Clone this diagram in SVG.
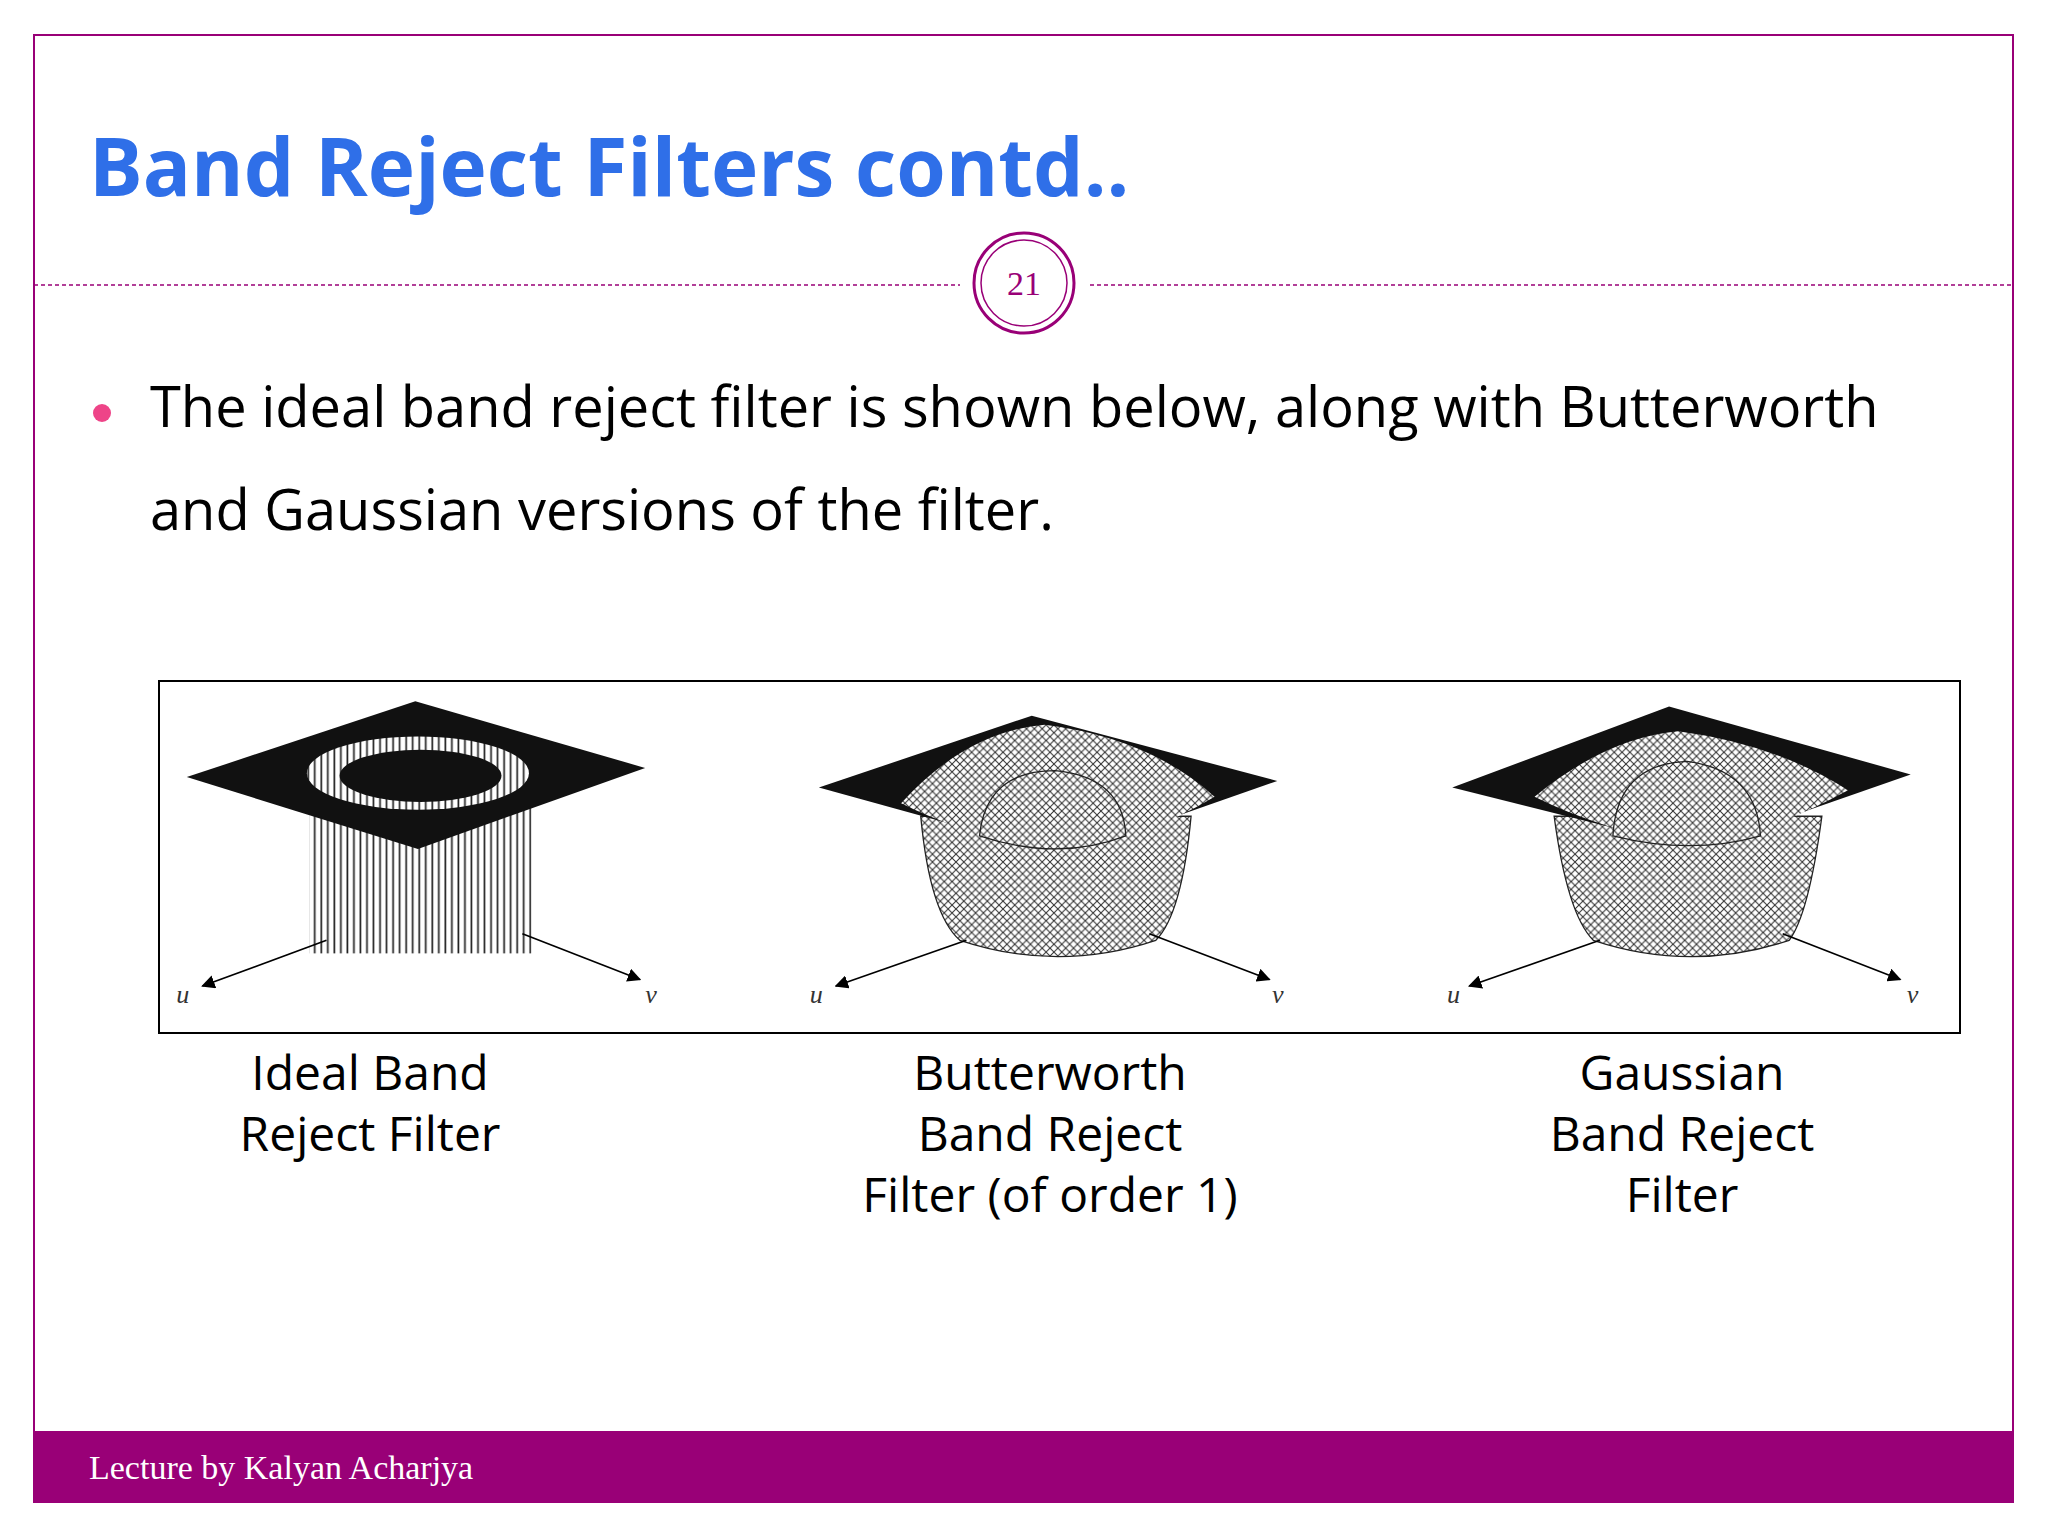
<svg xmlns="http://www.w3.org/2000/svg" width="2048" height="1536" viewBox="0 0 2048 1536">
<defs>
<style>
.t{font-family:"Open Sans","DejaVu Sans",sans-serif;fill:#000}
.ax{stroke:#000;stroke-width:1.3;fill:none}
.al{font-family:"Liberation Serif",serif;font-style:italic;font-size:20px;fill:#333}
</style>
<pattern id="vs" width="5" height="10" patternUnits="userSpaceOnUse"><rect width="5" height="10" fill="#fff"/><line x1="1" y1="0" x2="1" y2="10" stroke="#222" stroke-width="1.3"/></pattern>
<pattern id="mesh" width="6" height="6" patternUnits="userSpaceOnUse"><rect width="6" height="6" fill="#fff"/><path d="M0 0L6 6M6 0L0 6" stroke="#333" stroke-width="0.8"/></pattern>
<marker id="ah" viewBox="0 0 10 10" refX="9" refY="5" markerWidth="8" markerHeight="8" orient="auto"><path d="M0 0L10 5L0 10z" fill="#000"/></marker>
</defs>
<rect x="0" y="0" width="2048" height="1536" fill="#fff"/>
<rect x="34" y="35" width="1979" height="1467" fill="none" stroke="#990077" stroke-width="2"/>
<text x="89" y="196" font-family="'Open Sans',sans-serif" font-weight="bold" font-size="80" fill="#2f6fe8">Band Reject Filters contd..</text>
<line x1="34" y1="285" x2="960" y2="285" stroke="#990077" stroke-width="1.5" stroke-dasharray="4,3"/>
<line x1="1090" y1="285" x2="2013" y2="285" stroke="#990077" stroke-width="1.5" stroke-dasharray="4,3"/>
<circle cx="1024" cy="283" r="50" fill="#fff" stroke="#990077" stroke-width="3"/>
<circle cx="1024" cy="283" r="43" fill="none" stroke="#990077" stroke-width="1.5"/>
<text x="1024" y="295" text-anchor="middle" font-family="'Liberation Serif',serif" font-size="34" fill="#990077">21</text>
<circle cx="102" cy="413" r="9" fill="#ee4488"/>
<text class="t" x="150" y="427" font-size="56">The ideal band reject filter is shown below, along with Butterworth</text>
<text class="t" x="150" y="530" font-size="56">and Gaussian versions of the filter.</text>
<rect x="159" y="681" width="1801" height="352" fill="#fff" stroke="#000" stroke-width="2"/>
<g id="plots" transform="scale(1.306)">
<g id="ideal">
<rect x="237" y="590" width="170" height="140" fill="url(#vs)"/>
<path d="M143 595L318 537L494 588L320 650Z" fill="#111"/>
<ellipse cx="320" cy="592" rx="85" ry="28" fill="url(#vs)"/>
<ellipse cx="322" cy="594" rx="62" ry="20" fill="#111"/>
<line class="ax" x1="250" y1="720" x2="155" y2="755" marker-end="url(#ah)"/>
<line class="ax" x1="400" y1="715" x2="490" y2="750" marker-end="url(#ah)"/>
<text class="al" x="135" y="768">u</text><text class="al" x="494" y="768">v</text>
</g>
<g id="butter">
<path d="M705 625Q712 700 735 720Q810 745 885 720Q905 700 912 625Z" fill="url(#mesh)" stroke="#222"/>
<path d="M627 603L790 548L978 598L815 655Z" fill="#111"/>
<path d="M690 615Q740 560 800 555Q880 565 930 610Q880 640 815 655Q740 640 690 615Z" fill="url(#mesh)"/>
<path d="M750 640Q755 590 808 590Q860 595 862 640Q810 660 750 640Z" fill="url(#mesh)" stroke="#222"/>
<line class="ax" x1="740" y1="720" x2="640" y2="755" marker-end="url(#ah)"/>
<line class="ax" x1="880" y1="715" x2="972" y2="750" marker-end="url(#ah)"/>
<text class="al" x="620" y="768">u</text><text class="al" x="974" y="768">v</text>
</g>
<g id="gauss">
<path d="M1190 625Q1200 700 1220 720Q1295 745 1370 720Q1385 700 1395 625Z" fill="url(#mesh)" stroke="#222"/>
<path d="M1112 603L1278 541L1463 593L1300 650Z" fill="#111"/>
<path d="M1175 610Q1230 565 1285 560Q1360 570 1415 605Q1360 635 1300 650Q1225 635 1175 610Z" fill="url(#mesh)"/>
<path d="M1235 640Q1238 585 1292 583Q1345 590 1348 640Q1295 655 1235 640Z" fill="url(#mesh)" stroke="#222"/>
<line class="ax" x1="1225" y1="720" x2="1125" y2="755" marker-end="url(#ah)"/>
<line class="ax" x1="1365" y1="715" x2="1455" y2="750" marker-end="url(#ah)"/>
<text class="al" x="1108" y="768">u</text><text class="al" x="1460" y="768">v</text>
</g>
</g>
<g class="t" font-size="48" text-anchor="middle">
<text x="370" y="1090">Ideal Band</text><text x="370" y="1151">Reject Filter</text>
<text x="1050" y="1090">Butterworth</text><text x="1050" y="1151">Band Reject</text><text x="1050" y="1212">Filter (of order 1)</text>
<text x="1682" y="1090">Gaussian</text><text x="1682" y="1151">Band Reject</text><text x="1682" y="1212">Filter</text>
</g>
<rect x="34" y="1431" width="1979" height="71" fill="#990077"/>
<text x="89" y="1479" font-family="'Liberation Serif',serif" font-size="34" fill="#fff">Lecture by Kalyan Acharjya</text>
</svg>
